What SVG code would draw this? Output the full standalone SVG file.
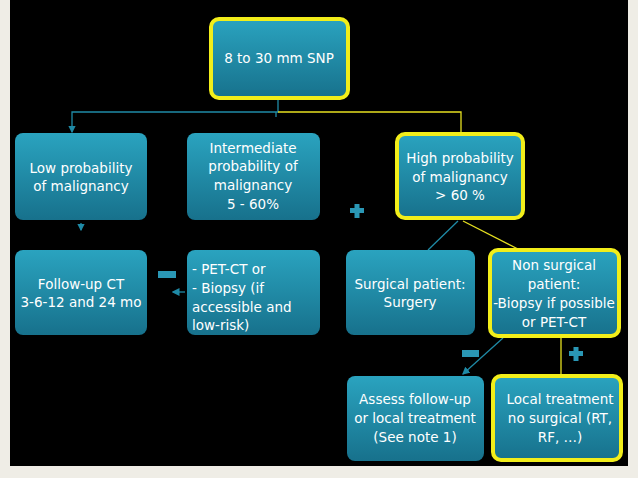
<svg xmlns="http://www.w3.org/2000/svg" width="638" height="478" viewBox="0 0 638 478">
<defs>
<linearGradient id="g" x1="0" y1="0" x2="0" y2="1"><stop offset="0" stop-color="#2aa3bf"/><stop offset="1" stop-color="#17718c"/></linearGradient>
<marker id="a" markerWidth="6" markerHeight="6" refX="5" refY="3" orient="auto"><path d="M0,0L6,3L0,6z" fill="#1f8aa6"/></marker>
<style>
.b{fill:url(#g)}
.y{fill:url(#g);stroke:#f2ee1a;stroke-width:4}
text{font-family:"DejaVu Sans",sans-serif;font-size:13.5px;fill:#fff;text-anchor:middle}
.l{text-anchor:start}
.t{stroke:#1f8aa6;stroke-width:1.3;fill:none}
.w{stroke:#e6e020;stroke-width:1.3;fill:none}
.s{fill:#2a97b5}
</style>
</defs>
<rect width="638" height="478" fill="#efede6"/>
<rect x="10" y="0" width="618" height="466" fill="#000"/>
<g id="connectors">
<path class="t" d="M278,98V112H72V132" marker-end="url(#a)"/>
<path class="w" d="M278,112H461V132"/>
<path class="t" d="M276,112V117"/>
<path class="t" d="M81,223V230" marker-end="url(#a)"/>
<path class="t" d="M185,292H173" marker-end="url(#a)"/>
<path class="t" d="M458,221L428,250"/>
<path class="w" d="M463,221L518,249"/>
<path class="t" d="M503,338L463,374" marker-end="url(#a)"/>
<path class="w" d="M561,338V374"/>
</g>
<g id="signs">
<rect class="s" x="350" y="208" width="14" height="5"/><rect class="s" x="354.5" y="204" width="5" height="14"/>
<rect class="s" x="569" y="351" width="14" height="5"/><rect class="s" x="573.5" y="347" width="5" height="14"/>
<rect class="s" x="158" y="271" width="18" height="7"/>
<rect class="s" x="462" y="350" width="17" height="7"/>
</g>
<g id="n1"><rect class="y" x="211" y="19" width="137" height="79" rx="8"/><text x="279" y="63">8 to 30 mm SNP</text></g>
<g id="n2"><rect class="b" x="15" y="133" width="132" height="87" rx="8"/><text x="81" y="173">Low probability</text><text x="81" y="191">of malignancy</text></g>
<g id="n3"><rect class="b" x="187" y="133" width="133" height="87" rx="8"/><text x="253" y="153">Intermediate</text><text x="253" y="171">probability of</text><text x="253" y="190">malignancy</text><text x="253" y="209">5 - 60%</text></g>
<g id="n4"><rect class="y" x="397" y="134" width="126" height="84" rx="8"/><text x="460" y="163">High probability</text><text x="460" y="182">of malignancy</text><text x="460" y="200">&gt; 60 %</text></g>
<g id="n5"><rect class="b" x="15" y="250" width="132" height="85" rx="8"/><text x="81" y="289">Follow-up CT</text><text x="81" y="307">3-6-12 and 24 mo</text></g>
<g id="n6"><rect class="b" x="187" y="250" width="133" height="85" rx="8"/><text class="l" x="192" y="274">- PET-CT or</text><text class="l" x="192" y="293">- Biopsy (if</text><text class="l" x="192" y="312">accessible and</text><text class="l" x="192" y="330">low-risk)</text></g>
<g id="n7"><rect class="b" x="346" y="250" width="129" height="85" rx="8"/><text x="410" y="289">Surgical patient:</text><text x="410" y="307">Surgery</text></g>
<g id="n8"><rect class="y" x="490" y="250" width="129" height="86" rx="8"/><text x="554" y="270">Non surgical</text><text x="554" y="289">patient:</text><text x="554" y="308">-Biopsy if possible</text><text x="554" y="327">or PET-CT</text></g>
<g id="n9"><rect class="b" x="347" y="376" width="137" height="85" rx="8"/><text x="415" y="404">Assess follow-up</text><text x="415" y="423">or local treatment</text><text x="415" y="442">(See note 1)</text></g>
<g id="n10"><rect class="y" x="493" y="376" width="128" height="84" rx="8"/><text x="560" y="404">Local treatment</text><text x="560" y="423">no surgical (RT,</text><text x="560" y="442">RF, …)</text></g>
</svg>
